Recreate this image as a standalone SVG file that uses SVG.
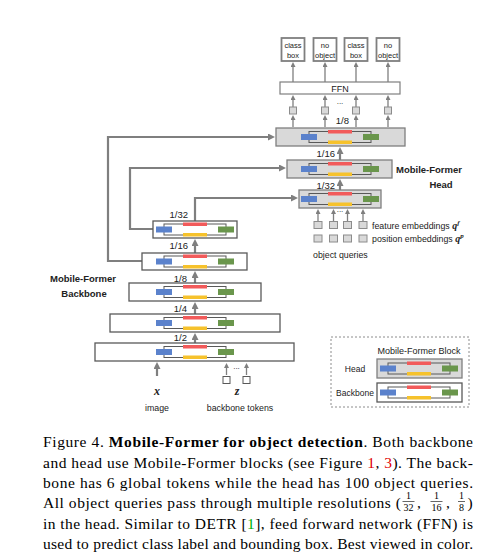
<svg xmlns="http://www.w3.org/2000/svg" width="487" height="558" viewBox="0 0 487 558">
<style>
.sans{font-family:"Liberation Sans",Arial,sans-serif;fill:#222}
.lbl{font-size:9.5px}
.small{font-size:7.5px}
.bold{font-weight:bold}
.serif{font-family:"Liberation Serif","Times New Roman",serif;fill:#000}
.cap{font-size:15.5px}
.math{font-family:"Liberation Serif","Times New Roman",serif;font-weight:bold;font-style:italic;fill:#222}
.bb{fill:#fff;stroke:#595959;stroke-width:1.3}
.hd{fill:#d9d9d9;stroke:#7f7f7f;stroke-width:1.3}
.conn{fill:none;stroke:#7f7f7f;stroke-width:2.2}
.thin{fill:none;stroke:#7f7f7f;stroke-width:1.3}
.sq{fill:#d9d9d9;stroke:#8c8c8c;stroke-width:1}
.sqw{fill:#fff;stroke:#595959;stroke-width:1}
.out{fill:#fff;stroke:#7f7f7f;stroke-width:1.8}
</style>
<defs>
<marker id="arr" markerUnits="userSpaceOnUse" viewBox="0 0 7 7" markerWidth="7" markerHeight="7" refX="4" refY="3.5" orient="auto">
<path d="M0,0 L7,3.5 L0,7 z" fill="#7f7f7f"/>
</marker>
<marker id="arrS" markerUnits="userSpaceOnUse" viewBox="0 0 5 5" markerWidth="5" markerHeight="5" refX="3" refY="2.5" orient="auto">
<path d="M0,0 L5,2.5 L0,5 z" fill="#7f7f7f"/>
</marker>
<g id="core">
<rect x="-31" y="-5.5" width="62" height="11" fill="none" stroke="#595959" stroke-width="1"/>
<rect x="-12" y="-7" width="24" height="3.5" fill="#f25a5a"/>
<rect x="-12" y="3.5" width="24" height="3.5" fill="#f6c22c"/>
<rect x="-39" y="-3" width="16" height="6" fill="#5b82cc"/>
<rect x="23" y="-3" width="16" height="6" fill="#6a964c"/>
</g>
</defs>

<!-- connectors -->
<g id="connectors">
<line class="conn" x1="195" y1="343" x2="195" y2="336" marker-end="url(#arr)"/>
<line class="conn" x1="195" y1="314" x2="195" y2="305" marker-end="url(#arr)"/>
<line class="conn" x1="195" y1="283" x2="195" y2="274" marker-end="url(#arr)"/>
<line class="conn" x1="195" y1="253" x2="195" y2="242" marker-end="url(#arr)"/>
<polyline class="conn" points="195,222 195,198 295,198" marker-end="url(#arr)"/>
<polyline class="conn" points="153,229 130,229 130,168 283,168" marker-end="url(#arr)"/>
<polyline class="conn" points="142,261 108,261 108,137 272,137" marker-end="url(#arr)"/>
<line class="conn" x1="340" y1="190" x2="340" y2="182" marker-end="url(#arr)"/>
<line class="conn" x1="340" y1="160" x2="340" y2="150" marker-end="url(#arr)"/>
<!-- input arrows -->
<line class="conn" x1="157" y1="376" x2="157" y2="365" marker-end="url(#arr)"/>
<line class="thin" x1="226.5" y1="375" x2="226.5" y2="365" marker-end="url(#arrS)"/>
<line class="thin" x1="246.5" y1="375" x2="246.5" y2="365" marker-end="url(#arrS)"/>
<!-- object queries arrows -->
<line class="thin" x1="318" y1="221" x2="318" y2="211" marker-end="url(#arrS)"/>
<line class="thin" x1="333.5" y1="221" x2="333.5" y2="211" marker-end="url(#arrS)"/>
<line class="thin" x1="347.5" y1="221" x2="347.5" y2="211" marker-end="url(#arrS)"/>
<line class="thin" x1="363" y1="221" x2="363" y2="211" marker-end="url(#arrS)"/>
<!-- head output arrows -->
<line class="thin" x1="293" y1="127" x2="293" y2="117" marker-end="url(#arrS)"/>
<line class="thin" x1="325" y1="127" x2="325" y2="117" marker-end="url(#arrS)"/>
<line class="thin" x1="356" y1="127" x2="356" y2="117" marker-end="url(#arrS)"/>
<line class="thin" x1="388" y1="127" x2="388" y2="117" marker-end="url(#arrS)"/>
<line class="thin" x1="293" y1="107" x2="293" y2="97" marker-end="url(#arrS)"/>
<line class="thin" x1="325" y1="107" x2="325" y2="97" marker-end="url(#arrS)"/>
<line class="thin" x1="356" y1="107" x2="356" y2="97" marker-end="url(#arrS)"/>
<line class="thin" x1="388" y1="107" x2="388" y2="97" marker-end="url(#arrS)"/>
<line class="thin" x1="293" y1="82" x2="293" y2="64" marker-end="url(#arrS)"/>
<line class="thin" x1="325" y1="82" x2="325" y2="64" marker-end="url(#arrS)"/>
<line class="thin" x1="356" y1="82" x2="356" y2="64" marker-end="url(#arrS)"/>
<line class="thin" x1="388" y1="82" x2="388" y2="64" marker-end="url(#arrS)"/>
</g>

<!-- backbone blocks -->
<g id="bb-half">
<rect class="bb" x="95" y="343" width="199" height="18"/>
<use href="#core" x="195" y="352"/>
</g>
<g id="bb-quarter">
<rect class="bb" x="110" y="314" width="170" height="18"/>
<use href="#core" x="195" y="323"/>
</g>
<g id="bb-eighth">
<rect class="bb" x="129" y="283" width="132" height="18"/>
<use href="#core" x="195" y="292"/>
</g>
<g id="bb-sixteenth">
<rect class="bb" x="142" y="253" width="105" height="17"/>
<use href="#core" x="195" y="261.5"/>
</g>
<g id="bb-thirtysecond">
<rect class="bb" x="153" y="221" width="84" height="17"/>
<use href="#core" x="195" y="229.5"/>
</g>

<!-- head blocks -->
<g id="head-1">
<rect class="hd" x="299" y="190" width="82" height="18"/>
<use href="#core" x="340" y="199"/>
</g>
<g id="head-2">
<rect class="hd" x="287" y="160" width="105" height="18"/>
<use href="#core" x="340" y="169"/>
</g>
<g id="head-3">
<rect class="hd" x="276" y="128" width="129" height="18"/>
<use href="#core" x="340" y="137"/>
</g>

<!-- resolution labels -->
<g id="labels" class="sans lbl" text-anchor="end">
<text x="187" y="340.5">1/2</text>
<text x="187" y="311.5">1/4</text>
<text x="187" y="281.5">1/8</text>
<text x="188" y="249">1/16</text>
<text x="188" y="218">1/32</text>
<text x="335" y="188.5">1/32</text>
<text x="335" y="156.5">1/16</text>
<text x="349" y="123.5">1/8</text>
</g>

<!-- head output tokens -->
<g id="head-tokens">
<rect class="sq" x="289.5" y="107" width="7" height="7"/>
<rect class="sq" x="321.5" y="107" width="7" height="7"/>
<rect class="sq" x="352.5" y="107" width="7" height="7"/>
<rect class="sq" x="384.5" y="107" width="7" height="7"/>
<text class="sans" x="340" y="104" font-size="8" text-anchor="middle" fill="#555">...</text>
</g>

<g id="ffn">
<rect x="280" y="82" width="120" height="12" fill="#fff" stroke="#7f7f7f" stroke-width="1.2"/>
<text class="sans" x="340" y="91.5" font-size="9" text-anchor="middle">FFN</text>
</g>

<g id="out1"><rect class="out" x="281.5" y="38" width="23" height="23"/>
<text class="sans small" x="293" y="48" text-anchor="middle">class</text><text class="sans small" x="293" y="57.5" text-anchor="middle">box</text></g>
<g id="out2"><rect class="out" x="313.5" y="38" width="23" height="23"/>
<text class="sans small" x="325" y="48" text-anchor="middle">no</text><text class="sans small" x="325" y="57.5" text-anchor="middle">object</text></g>
<g id="out3"><rect class="out" x="344.5" y="38" width="23" height="23"/>
<text class="sans small" x="356" y="48" text-anchor="middle">class</text><text class="sans small" x="356" y="57.5" text-anchor="middle">box</text></g>
<g id="out4"><rect class="out" x="376.5" y="38" width="23" height="23"/>
<text class="sans small" x="388" y="48" text-anchor="middle">no</text><text class="sans small" x="388" y="57.5" text-anchor="middle">object</text></g>

<!-- object queries -->
<g id="object-queries">
<rect class="sq" x="314" y="221.5" width="8" height="7"/>
<rect class="sq" x="329.5" y="221.5" width="8" height="7"/>
<rect class="sq" x="343.5" y="221.5" width="8" height="7"/>
<rect class="sq" x="359" y="221.5" width="8" height="7"/>
<rect class="sq" x="314" y="235" width="8" height="7"/>
<rect class="sq" x="329.5" y="235" width="8" height="7"/>
<rect class="sq" x="343.5" y="235" width="8" height="7"/>
<rect class="sq" x="359" y="235" width="8" height="7"/>
<text class="sans" x="340" y="212" font-size="8" text-anchor="middle" fill="#555">...</text>
<text class="sans" x="372" y="228.5" font-size="8.8">feature embeddings <tspan class="math" font-size="10">q</tspan><tspan class="math" font-size="7" dy="-4" font-weight="normal">f</tspan></text>
<text class="sans" x="372" y="242" font-size="8.8">position embeddings <tspan class="math" font-size="10">q</tspan><tspan class="math" font-size="7" dy="-4" font-weight="normal">p</tspan></text>
<text class="sans" x="313" y="258" font-size="8.8">object queries</text>
</g>

<g id="head-title" class="sans bold" font-size="9.5" text-anchor="middle">
<text x="429" y="173">Mobile-Former</text>
<text x="441" y="188">Head</text>
</g>
<g id="backbone-title" class="sans bold" font-size="9.5" text-anchor="middle">
<text x="83" y="282">Mobile-Former</text>
<text x="84" y="297">Backbone</text>
</g>

<!-- inputs -->
<g id="input-image">
<text class="math" x="157" y="395" font-size="12" text-anchor="middle">x</text>
<text class="sans" x="157" y="411" font-size="8.8" text-anchor="middle">image</text>
</g>
<g id="input-tokens">
<rect class="sqw" x="223" y="376.5" width="7" height="7"/>
<rect class="sqw" x="243" y="376.5" width="7" height="7"/>
<text class="sans" x="236.5" y="369" font-size="8" text-anchor="middle" fill="#555">...</text>
<text class="math" x="237" y="395" font-size="12" text-anchor="middle">z</text>
<text class="sans" x="240" y="411" font-size="8.8" text-anchor="middle">backbone tokens</text>
</g>

<!-- legend -->
<g id="legend">
<rect x="331" y="337" width="138" height="70" fill="none" stroke="#8c8c8c" stroke-width="1" stroke-dasharray="2,2"/>
<text class="sans" x="419" y="354" font-size="9" text-anchor="middle">Mobile-Former Block</text>
<text class="sans" x="355" y="371.5" font-size="8.5" text-anchor="middle">Head</text>
<text class="sans" x="355" y="395.5" font-size="8.5" text-anchor="middle">Backbone</text>
<rect class="hd" x="377" y="359" width="85" height="19"/>
<use href="#core" x="419" y="368.5"/>
<rect class="bb" x="377" y="383" width="85" height="19"/>
<use href="#core" x="419" y="392.5"/>
</g>

<!-- caption -->
<g id="caption" class="serif cap">
<text x="43" y="447" textLength="430" lengthAdjust="spacing">Figure 4. <tspan font-weight="bold">Mobile-Former for object detection</tspan>. Both backbone</text>
<text x="43" y="467.5" textLength="430" lengthAdjust="spacing">and head use Mobile-Former blocks (see Figure <tspan fill="#e00000">1</tspan>, <tspan fill="#e00000">3</tspan>). The back-</text>
<text x="43" y="488" textLength="430" lengthAdjust="spacing">bone has 6 global tokens while the head has 100 object queries.</text>
<text x="43" y="508" textLength="358" lengthAdjust="spacing">All object queries pass through multiple resolutions (</text>
<text x="408.5" y="498.5" font-size="10" text-anchor="middle">1</text>
<line x1="402.5" y1="501.5" x2="414.5" y2="501.5" stroke="#000" stroke-width="0.6"/>
<text x="408.5" y="510.5" font-size="10" text-anchor="middle">32</text>
<text x="417" y="508">,</text>
<text x="436.5" y="498.5" font-size="10" text-anchor="middle">1</text>
<line x1="430.5" y1="501.5" x2="442.5" y2="501.5" stroke="#000" stroke-width="0.6"/>
<text x="436.5" y="510.5" font-size="10" text-anchor="middle">16</text>
<text x="446" y="508">,</text>
<text x="461.5" y="498.5" font-size="10" text-anchor="middle">1</text>
<line x1="458" y1="501.5" x2="465" y2="501.5" stroke="#000" stroke-width="0.6"/>
<text x="461.5" y="510.5" font-size="10" text-anchor="middle">8</text>
<text x="467.5" y="508">)</text>
<text x="43" y="528.5" textLength="430" lengthAdjust="spacing">in the head. Similar to DETR [<tspan fill="#00b000">1</tspan>], feed forward network (FFN) is</text>
<text x="43" y="549" textLength="430" lengthAdjust="spacing">used to predict class label and bounding box. Best viewed in color.</text>
</g>
</svg>
